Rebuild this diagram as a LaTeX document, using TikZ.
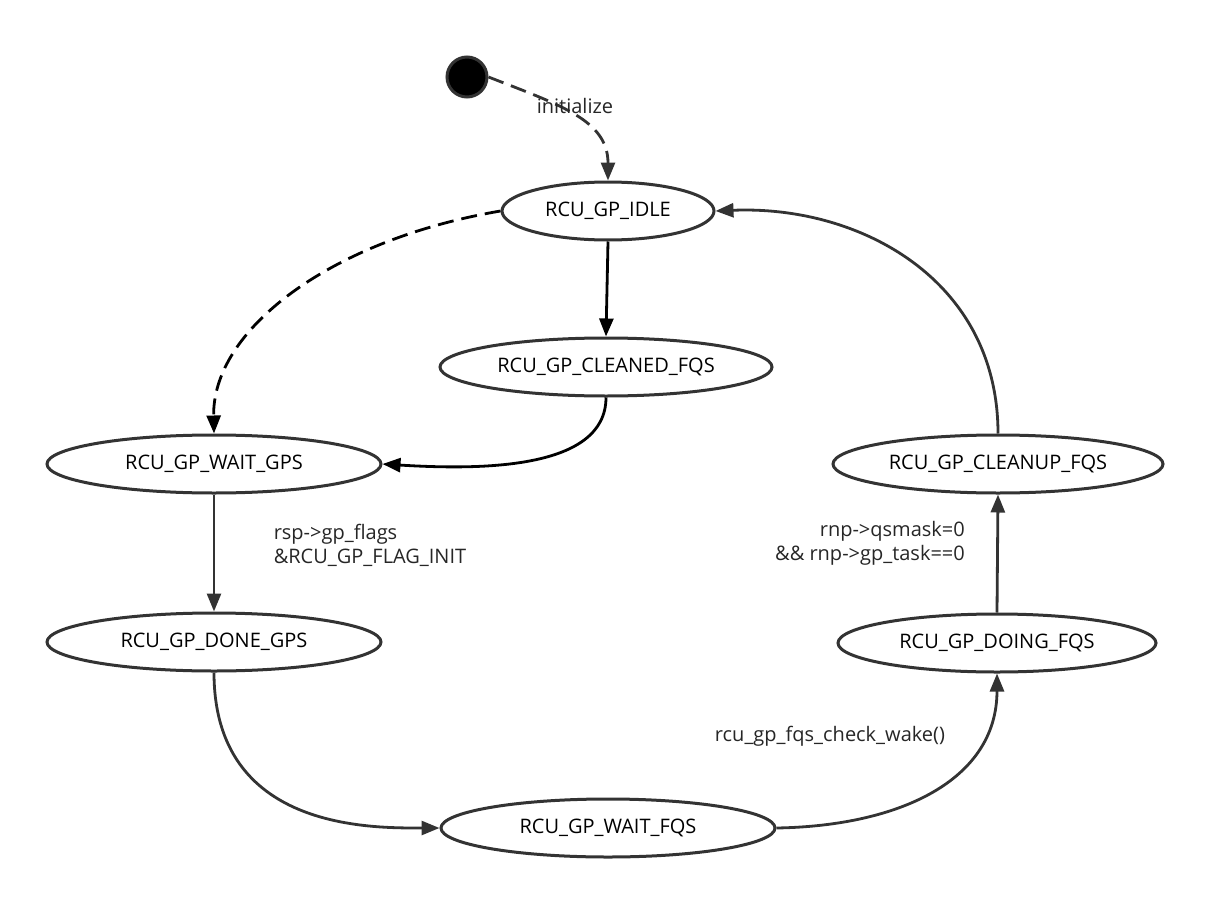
\documentclass[tikz,border=0pt]{standalone}
\usepackage{fontspec}
\setmainfont{Open Sans}
\usetikzlibrary{arrows.meta, shapes.geometric, positioning}

\tikzset{
  state/.style={ellipse, draw=black!80, line width=1.5pt, inner sep=0pt, minimum height=29pt, font=\fontsize{10}{12}\selectfont},
  trans/.style={draw=black!80, line width=1.4pt, -{Triangle[length=9pt,width=7pt]}},
  lbl/.style={font=\fontsize{10}{12}\selectfont, text=black!85}
}

\begin{document}
\begin{tikzpicture}[x=0.5pt, y=-0.5pt]
        \useasboundingbox (0,0) rectangle (1215,904);

        % initial pseudo state
        \node[circle, fill=black, draw=black!80, line width=1.5pt, minimum size=20pt, inner sep=0pt] (init) at (467,77) {};

        % states
        \node[state, minimum width=106pt] (idle) at (608,211) {RCU\_GP\_IDLE};
        \node[state, minimum width=166pt] (cleaned) at (606,367) {RCU\_GP\_CLEANED\_FQS};
        \node[state, minimum width=167pt] (waitgps) at (214,464) {RCU\_GP\_WAIT\_GPS};
        \node[state, minimum width=167pt] (donegps) at (214,642) {RCU\_GP\_DONE\_GPS};
        \node[state, minimum width=167pt] (waitfqs) at (608,828) {RCU\_GP\_WAIT\_FQS};
        \node[state, minimum width=159pt] (doingfqs) at (997,643) {RCU\_GP\_DOING\_FQS};
        \node[state, minimum width=165pt] (cleanupfqs) at (998,464) {RCU\_GP\_CLEANUP\_FQS};

        % transitions
        \draw[trans, dashed, dash pattern=on 8pt off 4pt] (init.east) .. controls (560,105) and (608,120) .. (idle.north);
        \node[lbl] (initlbl) at (575,106) {initialize};

        \draw[trans, dashed, dash pattern=on 8pt off 4pt, black] (idle.west) .. controls (330,240) and (212,330) .. (waitgps.north);
        \draw[trans, black] (idle.south) -- (cleaned.north);
        \draw[trans, black] (cleaned.south) .. controls (606,470) and (480,470) .. (waitgps.east);

        \draw[trans] (waitgps.south) -- (donegps.north);
        \node[lbl, align=left] (flaglbl) at (370,545) {rsp->gp\_flags\\\&RCU\_GP\_FLAG\_INIT};

        \draw[trans] (donegps.south) .. controls (214,830) and (370,828) .. (waitfqs.west);
        \draw[trans] (waitfqs.east) .. controls (900,826) and (997,780) .. (doingfqs.south);
        \node[lbl] (wakelbl) at (830,736) {rcu\_gp\_fqs\_check\_wake()};

        \draw[trans] (doingfqs.north) -- (cleanupfqs.south);
        \node[lbl, align=right] (qslbl) at (870,543) {rnp->qsmask=0\\\&\& rnp->gp\_task==0};

        \draw[trans] (cleanupfqs.north) .. controls (998,280) and (860,205) .. (idle.east);
\end{tikzpicture}
\end{document}
